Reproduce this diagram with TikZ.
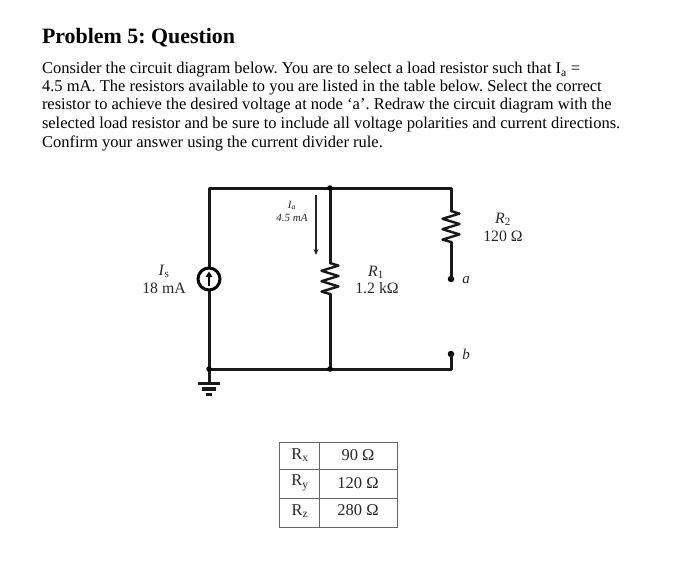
\documentclass[tikz,border=0pt]{standalone}
\usepackage{fontspec}
\setmainfont{Liberation Serif}
\usetikzlibrary{arrows.meta,calc}
\tikzset{
  wire/.style={draw=black!90,line width=3pt,line cap=round,line join=round},
  gbar/.style={draw=black!90,line width=3.2pt,line cap=butt},
  txt/.style={anchor=base west,inner sep=0pt,outer sep=0pt,text=black},
  body/.style={txt,font=\fontsize{16.5}{16.5}\selectfont},
  lab/.style={anchor=base,inner sep=0pt,outer sep=0pt,align=center,font=\fontsize{15.8}{17}\selectfont,text=black!85},
  small/.style={anchor=base,inner sep=0pt,outer sep=0pt,font=\fontsize{11}{11}\selectfont\itshape,text=black!85},
  term/.style={circle,fill=black,inner sep=0pt,minimum size=6.5pt},
  dotj/.style={circle,fill=black,inner sep=0pt,minimum size=5.5pt},
  src/.style={circle,draw=black,line width=3pt,fill=white,inner sep=0pt,minimum size=22pt},
  cell/.style={anchor=center,inner sep=0pt,font=\fontsize{16.5}{17}\selectfont,text=black!85},
  rule/.style={draw=black!60,line width=1pt}
}
\newcommand{\zig}[2]{% start coordinate, end coordinate (vertical, height 31)
  \draw[wire,line width=2.4pt] (#1) -- ++(8.5,2.6) -- ++(-17,5.2) -- ++(17,5.2) -- ++(-17,5.2) -- ++(17,5.2) -- ++(-17,5.2) -- (#2);
}
\begin{document}
\frenchspacing
\begin{tikzpicture}[x=1pt,y=-1pt]
\useasboundingbox (0,0) rectangle (700,572);
\fill[white] (0,0) rectangle (700,572);
% text
\node[txt,font=\fontsize{21.9}{21.9}\selectfont\bfseries] (title) at (42,44) {Problem 5: Question};
\node[body] (l1) at (42,74) {Consider the circuit diagram below. You are to select a load resistor such that I\textsubscript{a} =};
\node[body] (l2) at (42,92) {4.5 mA. The resistors available to you are listed in the table below. Select the correct};
\node[body] (l3) at (42,110) {resistor to achieve the desired voltage at node ‘a’. Redraw the circuit diagram with the};
\node[body] (l4) at (42,129) {selected load resistor and be sure to include all voltage polarities and current directions.};
\node[body] (l5) at (42,147) {Confirm your answer using the current divider rule.};
% circuit points
\coordinate (tl) at (209,188);
\coordinate (tm) at (330,188);
\coordinate (tr) at (451,188);
\coordinate (bl) at (209,369);
\coordinate (bm) at (330,369);
\coordinate (br) at (451,369);
\coordinate (r1t) at (330,263);
\coordinate (r1b) at (330,294);
\coordinate (r2t) at (451,211);
\coordinate (r2b) at (451,242);
\coordinate (gnd) at (209,383.5);
\coordinate (g1a) at (198,383.5); \coordinate (g1b) at (220,383.5);
\coordinate (g2a) at (202,389); \coordinate (g2b) at (216,389);
\coordinate (g3a) at (206,394.5); \coordinate (g3b) at (212,394.5);
\coordinate (ia1) at (316,195);
\coordinate (ia2) at (316,255);
\node[term] (a) at (451,279) {};
\node[term] (b) at (451,354) {};
% wires
\draw[wire] (a.center) -- (r2b);
\zig{r2t}{r2b}
\draw[wire] (r2t) -- (tr) -- (tl) -- (bl) -- (br) -- (b.center);
\draw[wire] (tm) -- (r1t);
\zig{r1t}{r1b}
\draw[wire] (r1b) -- (bm);
\draw[wire] (bl) -- (gnd);
\draw[gbar] (g1a) -- (g1b);
\draw[gbar] (g2a) -- (g2b);
\draw[gbar] (g3a) -- (g3b);
\node[dotj] (j1) at (tm) {};
\node[dotj] (j2) at (bm) {};
\node[dotj] (j3) at (bl) {};
% source
\node[src] (is) at (209,279) {};
\coordinate (is1) at (209,286);
\coordinate (is2) at (209,271.5);
\draw[line width=2.2pt,-{Triangle[length=5.5pt,width=6.5pt]}] (is1) -- (is2);
% current arrow
\draw[line width=1.2pt,black!85,-{Stealth[length=6pt,width=5pt]}] (ia1) -- (ia2);
% labels
\node[small] (ila) at (292,208) {I\textsubscript{a}};
\node[small] (ilb) at (292,221) {4.5 mA};
\node[lab] (isa) at (164,275) {\textit{I}\textsubscript{s}};
\node[lab] (isb) at (164,293) {18 mA};
\node[lab] (r1a) at (376,276) {\textit{R}\textsubscript{1}};
\node[lab] (r1c) at (377,293) {1.2 kΩ};
\node[lab] (r2a) at (503,223) {\textit{R}\textsubscript{2}};
\node[lab] (r2c) at (503,241) {120 Ω};
\node[lab,font=\fontsize{15}{15}\selectfont\itshape] (alab) at (466,283) {a};
\node[lab,font=\fontsize{15}{15}\selectfont\itshape] (blab) at (466,359) {b};
% table
\draw[rule] (279,442) rectangle (397,527);
\draw[rule] (279,469) -- (397,469);
\draw[rule] (279,498) -- (397,498);
\draw[rule] (319,442) -- (319,527);
\node[cell] (c1) at (300,455) {R\textsubscript{x}};
\node[cell] (c2) at (358,455) {90 Ω};
\node[cell] (c3) at (300,483) {R\textsubscript{y}};
\node[cell] (c4) at (358,483) {120 Ω};
\node[cell] (c5) at (300,511) {R\textsubscript{z}};
\node[cell] (c6) at (358,510) {280 Ω};
\end{tikzpicture}
\end{document}
